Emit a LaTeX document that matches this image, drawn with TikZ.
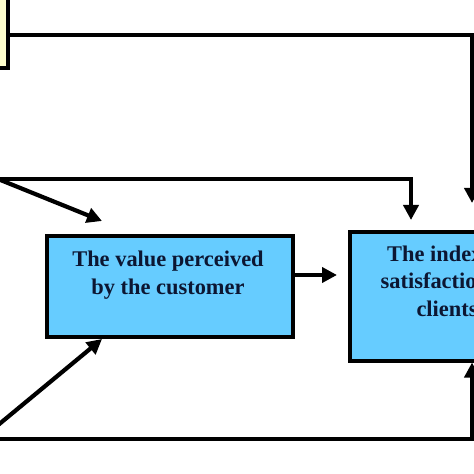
\documentclass[tikz,border=0pt]{standalone}
\usepackage{fontspec}
\setmainfont{Liberation Serif}
\usetikzlibrary{arrows.meta}
\definecolor{boxblue}{RGB}{102,204,255}
\definecolor{boxyellow}{RGB}{255,255,204}
\definecolor{txtnavy}{RGB}{12,22,50}
\begin{document}
\begin{tikzpicture}[x=1bp,y=-1bp,
  blk/.style={draw=black,line width=4bp,fill=boxblue,inner sep=0pt},
  ylw/.style={draw=black,line width=4bp,fill=boxyellow,inner sep=0pt},
  lbl/.style={text=txtnavy,font=\bfseries\fontsize{22.5}{27.5}\selectfont,align=center,inner sep=0pt},
  conn/.style={line width=4.2bp,-{Triangle[length=15bp,width=15bp]}},
  plain/.style={line width=4bp}]
\useasboundingbox (0,0) rectangle (474,474);
\clip (0,0) rectangle (474,474);
\fill[white] (0,0) rectangle (474,474);
% yellow box (off-picture mostly)
\node[ylw,minimum width=80bp,minimum height=100bp,anchor=south east] (ybox) at (9.5,70) {};
% blue boxes
\node[blk,minimum width=246bp,minimum height=101bp,anchor=north west] (vbox) at (45,234) {};
\node[lbl] (vtxt) at (168,275) {The value perceived\\by the customer};
\node[blk,minimum width=198bp,minimum height=129bp,anchor=north west] (ibox) at (348,229.5) {};
\node[lbl] (itxt) at (447,281) {The index of\\satisfaction of\\clients};
% free ends of connectors coming from outside the picture
\coordinate (s1) at (-2,179);
\coordinate (s2) at (-30,439);
\coordinate (s3) at (-20,440);
\coordinate (t1) at (472,203);
\coordinate (t2) at (411,220);
% connectors
\draw[conn] (ybox.east |- 0,35) -- (472,35) -- (t1);
\draw[conn] (s1) -- (411,179) -- (t2);
\draw[conn] (s1) -- (102,221);
\draw[conn] (vbox.east |- 0,275) -- (337,275);
\draw[conn] (s3) -- (vbox.south -| 102,0);
\draw[conn] (s2) -- (472,439) -- (ibox.south -| 472,0);
\end{tikzpicture}
\end{document}
